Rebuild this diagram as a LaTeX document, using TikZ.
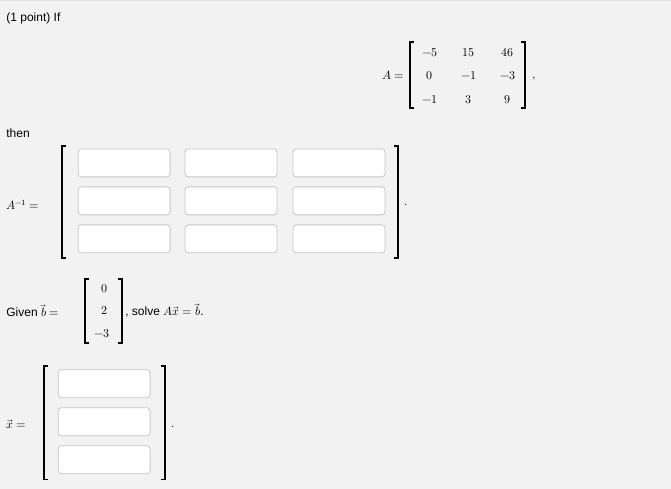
\documentclass[tikz,border=0pt]{standalone}
\usepackage{fontspec}
\setmainfont{Liberation Sans}
\usepackage{unicode-math}
\setmathfont{Latin Modern Math}
\begin{document}
\begin{tikzpicture}[x=1pt,y=-1pt,
  txt/.style={font=\fontsize{12}{14}\selectfont, inner sep=0pt, anchor=west},
  mth/.style={font=\large, inner sep=0pt},
  ent/.style={draw=black!22, fill=white, rounded corners=3pt, minimum width=92pt, minimum height=28pt, line width=0.8pt, inner sep=0pt},
  brk/.style={line width=1.5pt}]
\fill[black!5] (0,0) rectangle (671,489);
\draw[black!12] (0,0.5) -- (671,0.5);
\useasboundingbox (0,0) rectangle (671,489);
\node[txt] (t1) at (6,18) {(1 point) If};
% matrix A
\node[mth, anchor=east] (Aeq) at (404,75) {$A=$};
\draw[brk] (414,42) -- (410,42) -- (410,108) -- (414,108);
\draw[brk] (521,42) -- (525,42) -- (525,108) -- (521,108);
\node[mth] (a11) at (430,53) {$-5$};
\node[mth] (a12) at (469,53) {$15$};
\node[mth] (a13) at (508,53) {$46$};
\node[mth] (a21) at (430,76) {$0$};
\node[mth] (a22) at (469,76) {$-1$};
\node[mth] (a23) at (508,76) {$-3$};
\node[mth] (a31) at (430,100) {$-1$};
\node[mth] (a32) at (469,100) {$3$};
\node[mth] (a33) at (508,100) {$9$};
\node[mth, anchor=west] (cm) at (532,79) {$,$};
\node[txt] (then) at (6,133) {then};
% A inverse
\node[mth, anchor=west] (Ainv) at (6,205) {$A^{-1}=$};
\draw[brk] (66,146) -- (62,146) -- (62,258) -- (66,258);
\draw[brk] (394,146) -- (398,146) -- (398,258) -- (394,258);
\foreach \c/\x in {1/124,2/231,3/339}{
  \foreach \r/\y in {1/163,2/201,3/239}{
    \node[ent] (m\r\c) at (\x,\y) {};
  }
}
\node[mth, anchor=west] (p1) at (404,205) {$.$};
% b
\node[txt] (given) at (6,311) {Given {\large$\vec b=$}};
\draw[brk] (89,279) -- (85,279) -- (85,343) -- (89,343);
\draw[brk] (118,279) -- (122,279) -- (122,343) -- (118,343);
\node[mth] (b1) at (104,289) {$0$};
\node[mth] (b2) at (104,311) {$2$};
\node[mth] (b3) at (102,334) {$-3$};
\node[txt] (solve) at (125,311) {, solve {\large$A\vec x=\vec b$}.};
% x
\node[mth, anchor=west] (xeq) at (6,425) {$\vec x=$};
\draw[brk] (48,366) -- (44,366) -- (44,480) -- (48,480);
\draw[brk] (161,366) -- (165,366) -- (165,480) -- (161,480);
\foreach \r/\y in {1/384,2/422,3/460}{
  \node[ent] (x\r) at (104,\y) {};
}
\node[mth, anchor=west] (p2) at (171,427) {$.$};
\end{tikzpicture}
\end{document}
